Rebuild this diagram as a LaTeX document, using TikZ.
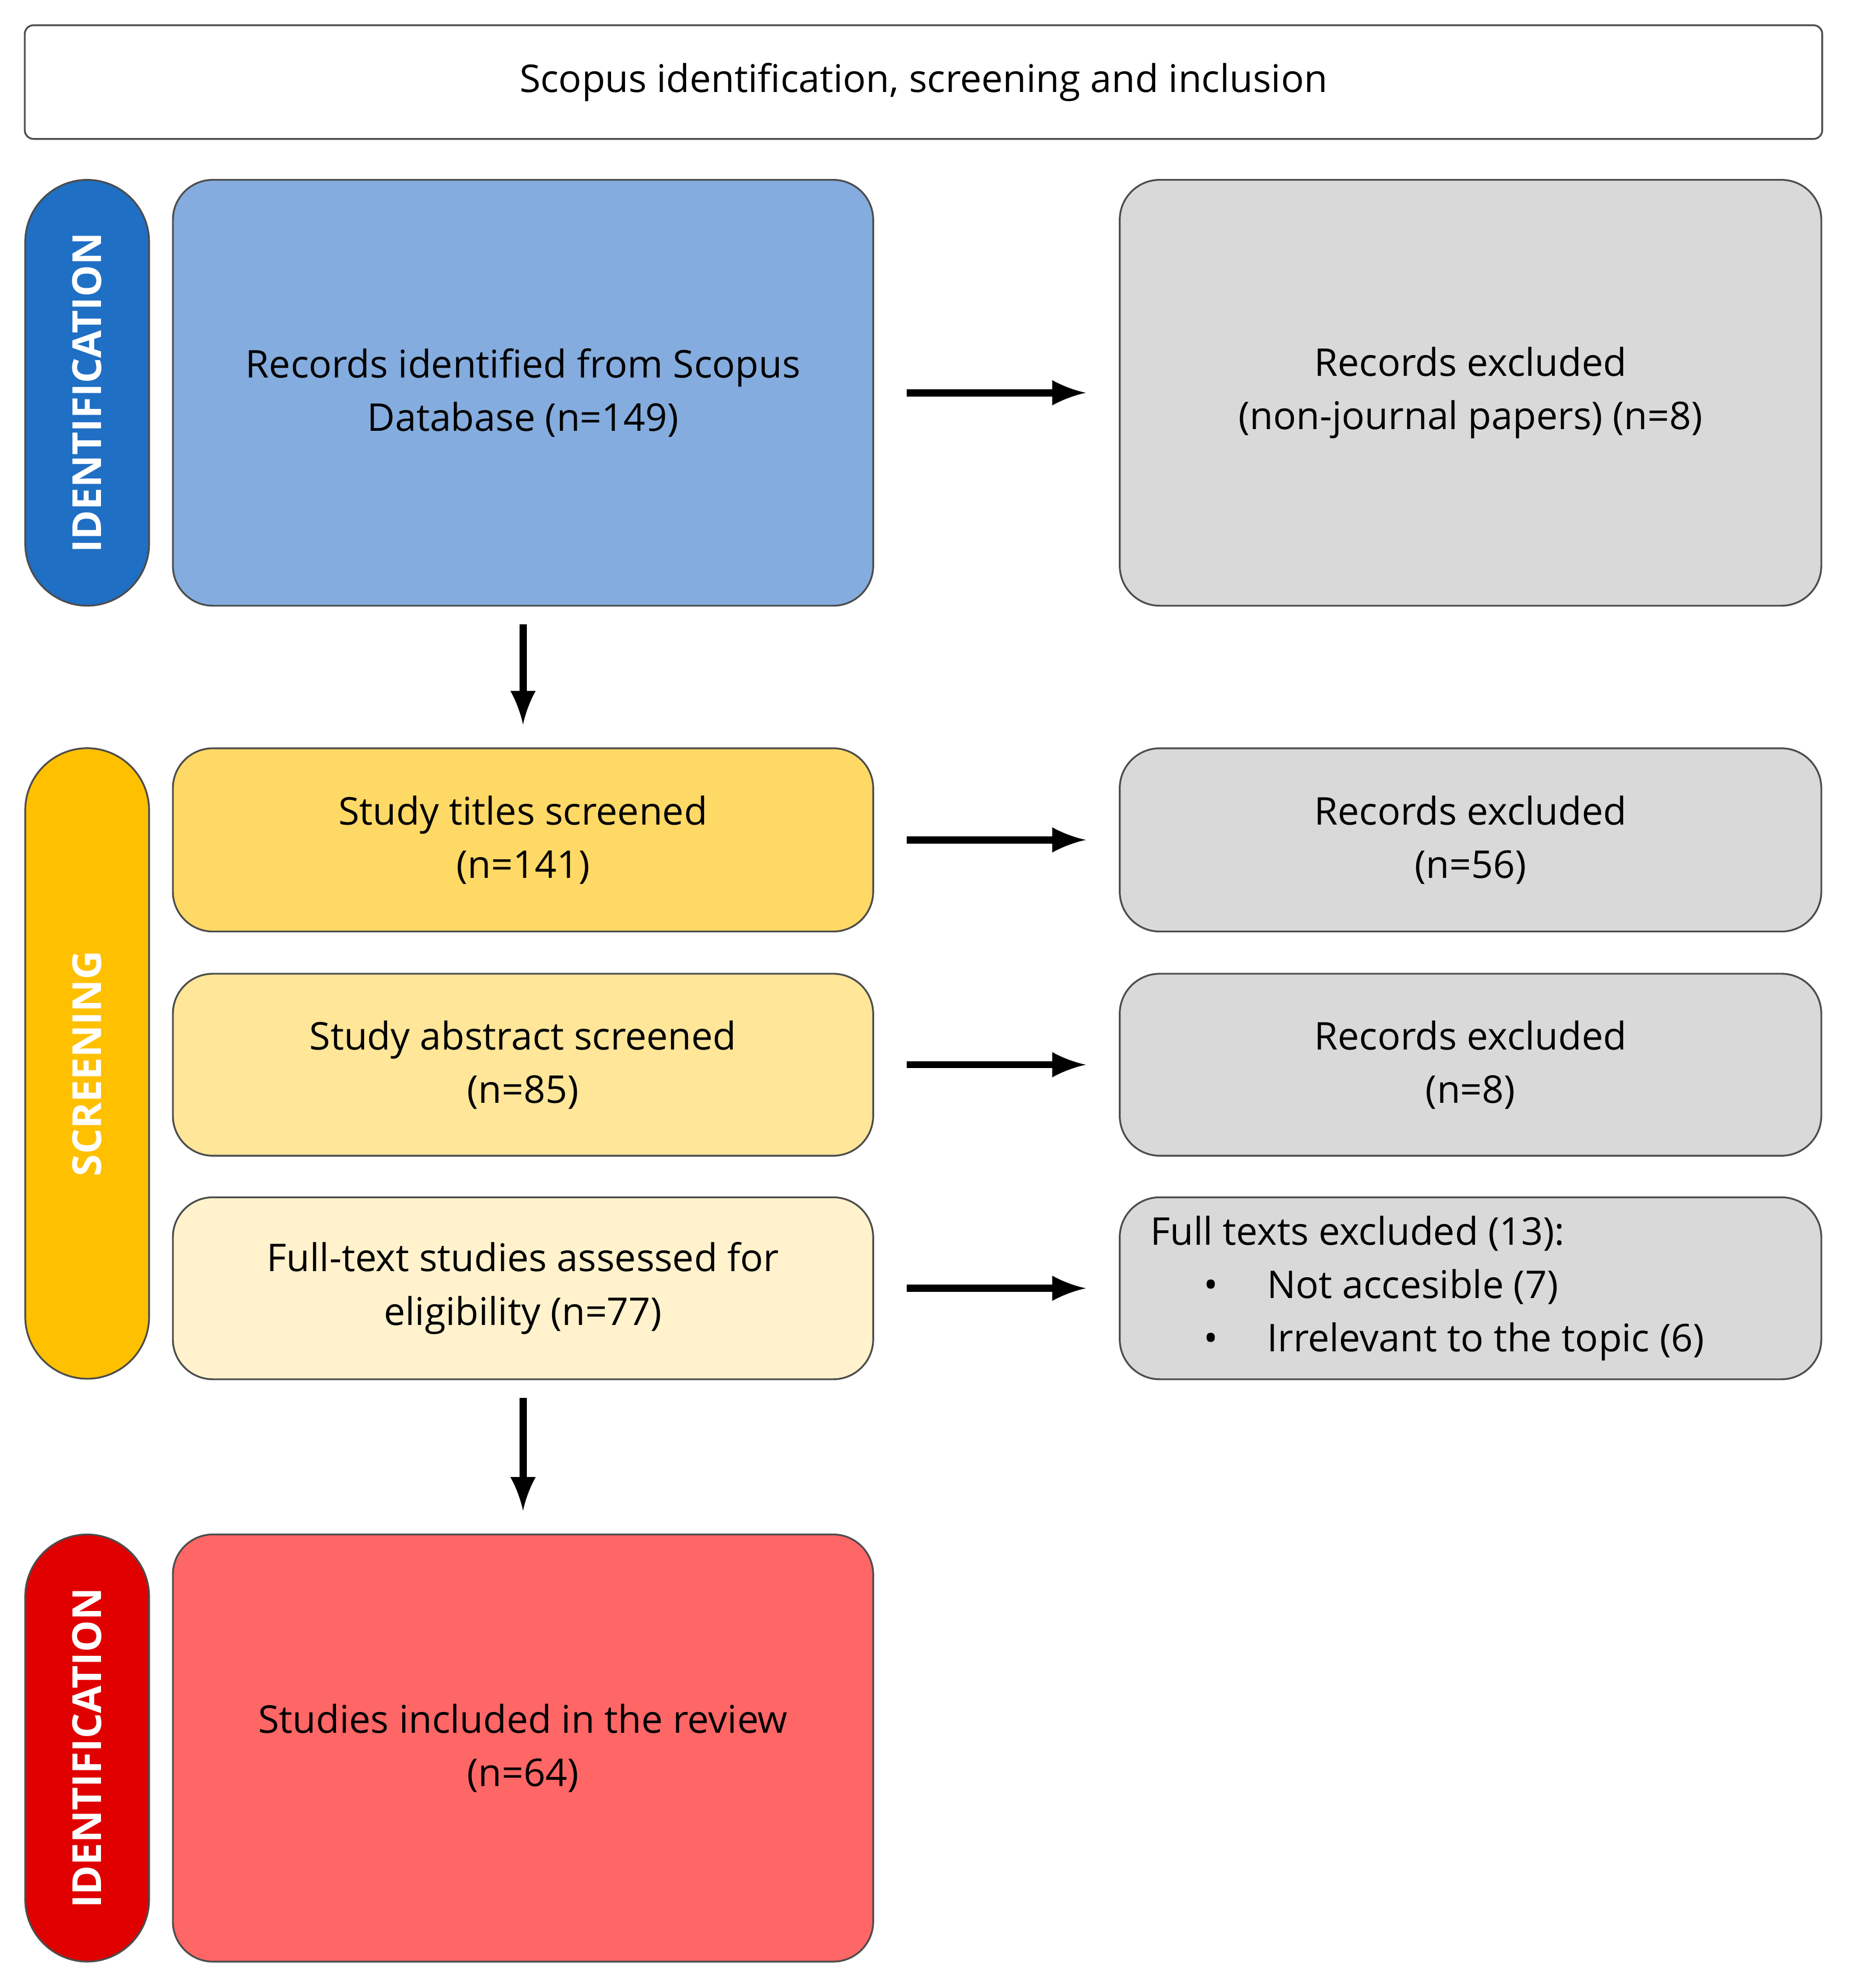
\documentclass[tikz,border=0pt]{standalone}
\usepackage{fontspec}
\setmainfont{Open Sans}
\usetikzlibrary{positioning}
\definecolor{idblue}{HTML}{1F6FC5}
\definecolor{boxblue}{HTML}{84ACDE}
\definecolor{scryel}{HTML}{FFC000}
\definecolor{yelA}{HTML}{FFD966}
\definecolor{yelB}{HTML}{FFE699}
\definecolor{yelC}{HTML}{FFF2CC}
\definecolor{incred}{HTML}{E00000}
\definecolor{boxred}{HTML}{FF6666}
\definecolor{boxgrey}{HTML}{D9D9D9}

\begin{document}
\begin{tikzpicture}
         [x=0.01cm,y=-0.01cm,
          every node/.style={font=\fontsize{8.6}{12}\selectfont},
          box/.style={draw=black!70,rounded corners=9pt,align=center,inner sep=0pt},
          band/.style={draw=black!70,rounded corners=14pt,text=white,
                       font=\fontsize{9}{11}\selectfont\bfseries,rotate=90},
          arr/.style={-latex,line width=1.6pt}]
         \useasboundingbox[fill=white] (0,0) rectangle (1465,1574);
         % header
         \node[box,rounded corners=2pt,minimum width=14.22cm,minimum height=0.9cm] (title) at (731,65)
            {Scopus identification, screening and inclusion};
         % stage bands
         \node[band,fill=idblue,minimum width=3.37cm,minimum height=0.98cm] (bid) at (69,311) {IDENTIFICATION};
         \node[band,fill=scryel,minimum width=4.99cm,minimum height=0.98cm] (bscr) at (69,842) {SCREENING};
         \node[band,fill=incred,minimum width=3.38cm,minimum height=0.98cm] (binc) at (69,1384) {IDENTIFICATION};
         % left column
         \node[box,fill=boxblue,minimum width=5.54cm,minimum height=3.37cm] (rec) at (414,311)
            {Records identified from Scopus\\Database (n=149)};
         \node[box,fill=yelA,minimum width=5.54cm,minimum height=1.45cm] (title2) at (414,665)
            {Study titles screened\\(n=141)};
         \node[box,fill=yelB,minimum width=5.54cm,minimum height=1.44cm] (abs) at (414,843)
            {Study abstract screened\\(n=85)};
         \node[box,fill=yelC,minimum width=5.54cm,minimum height=1.44cm] (full) at (414,1020)
            {Full-text studies assessed for\\eligibility (n=77)};
         \node[box,fill=boxred,minimum width=5.54cm,minimum height=3.38cm] (inc) at (414,1384)
            {Studies included in the review\\(n=64)};
         % right column
         \node[box,fill=boxgrey,minimum width=5.55cm,minimum height=3.37cm] (ex1) at (1164,311)
            {Records excluded\\(non-journal papers) (n=8)};
         \node[box,fill=boxgrey,minimum width=5.55cm,minimum height=1.45cm] (ex2) at (1164,665)
            {Records excluded\\(n=56)};
         \node[box,fill=boxgrey,minimum width=5.55cm,minimum height=1.44cm] (ex3) at (1164,843)
            {Records excluded\\(n=8)};
         \node[box,fill=boxgrey,minimum width=5.55cm,minimum height=1.44cm] (ex4) at (1164,1020) {};
         \node[align=left,anchor=north west,inner sep=0pt] (ex4txt) at (910,962)
            {Full texts excluded (13):\\
             \hspace*{12pt}\textbullet\hspace{11pt}Not accesible (7)\\
             \hspace*{12pt}\textbullet\hspace{11pt}Irrelevant to the topic (6)};
         % arrows
         \foreach \from/\to in {rec/ex1, title2/ex2, abs/ex3, full/ex4}
            \draw[arr] ([xshift=0.26cm]\from.east) -- ([xshift=-0.26cm]\to.west);
         \foreach \from/\to in {rec/title2, full/inc}
            \draw[arr] ([yshift=-0.14cm]\from.south) -- ([yshift=0.18cm]\to.north);
       \end{tikzpicture}
\end{document}
